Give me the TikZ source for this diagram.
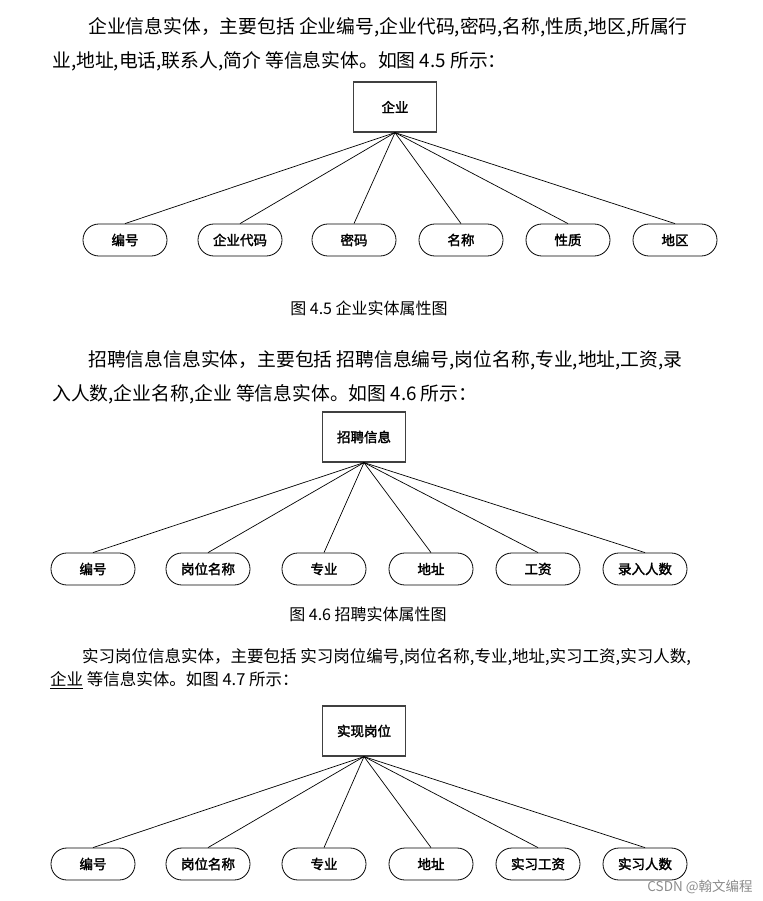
\documentclass[tikz,border=0pt]{standalone}
\usepackage{fontspec}
\newfontfamily\cjk{Noto Sans CJK SC}
\newfontfamily\cjkb{Noto Sans CJK SC}[FakeBold=2]
\usetikzlibrary{positioning}

\begin{document}
\begin{tikzpicture}[x=1pt, y=-1pt, font=\cjk,
  entity/.style={draw=black!75, line width=1.2pt, minimum width=83pt, minimum height=50pt, font=\cjkb\fontsize{13.5}{15}\selectfont},
  attr/.style={draw, line width=0.8pt, rounded corners=15.9pt, minimum width=84pt, minimum height=32pt, font=\cjkb\fontsize{13.5}{15}\selectfont},
  para/.style={anchor=west, inner sep=0pt, font=\cjk\fontsize{#1}{20}\selectfont},
  para/.default=18.8,
  figcap/.style={inner sep=0pt, font=\cjk\fontsize{16}{18}\selectfont},
  link/.style={line width=0.7pt}]
  \useasboundingbox (0,0) rectangle (762,901);
  % figure 4.5
  \node[para] (p1a) at (88,27) {企业信息实体，主要包括 企业编号,企业代码,密码,名称,性质,地区,所属行};
  \node[para] (p1b) at (52,61) {业,地址,电话,联系人,简介 等信息实体。如图 4.5 所示：};
  \node[entity] (qy) at (395,107) {企业};
  \node[attr] (qy1) at (125,240) {编号};
  \node[attr] (qy2) at (240,240) {企业代码};
  \node[attr] (qy3) at (354,240) {密码};
  \node[attr] (qy4) at (461,240) {名称};
  \node[attr] (qy5) at (568,240) {性质};
  \node[attr] (qy6) at (675,240) {地区};
  \draw[link] (qy.south) -- (qy1.north); \draw[link] (qy.south) -- (qy2.north);
  \draw[link] (qy.south) -- (qy3.north); \draw[link] (qy.south) -- (qy4.north);
  \draw[link] (qy.south) -- (qy5.north); \draw[link] (qy.south) -- (qy6.north);
  \node[figcap] (cap1) at (369,308) {图 4.5 企业实体属性图};
  % figure 4.6
  \node[para] (p2a) at (88,360) {招聘信息信息实体，主要包括 招聘信息编号,岗位名称,专业,地址,工资,录};
  \node[para] (p2b) at (52,394) {入人数,企业名称,企业 等信息实体。如图 4.6 所示：};
  \node[entity] (zp) at (364,437) {招聘信息};
  \node[attr] (zp1) at (93,569) {编号};
  \node[attr] (zp2) at (208,569) {岗位名称};
  \node[attr] (zp3) at (324,569) {专业};
  \node[attr] (zp4) at (431,569) {地址};
  \node[attr] (zp5) at (538,569) {工资};
  \node[attr] (zp6) at (645,569) {录入人数};
  \draw[link] (zp.south) -- (zp1.north); \draw[link] (zp.south) -- (zp2.north);
  \draw[link] (zp.south) -- (zp3.north); \draw[link] (zp.south) -- (zp4.north);
  \draw[link] (zp.south) -- (zp5.north); \draw[link] (zp.south) -- (zp6.north);
  \node[figcap] (cap2) at (368,614) {图 4.6 招聘实体属性图};
  % figure 4.7
  \node[para=16.5] (p3a) at (82,657) {实习岗位信息实体，主要包括 实习岗位编号,岗位名称,专业,地址,实习工资,实习人数,};
  \node[para=16.5] (p3b) at (50,680) {\underline{企业} 等信息实体。如图 4.7 所示：};
  \node[entity] (sx) at (364,731) {实现岗位};
  \node[attr] (sx1) at (93,864) {编号};
  \node[attr] (sx2) at (208,864) {岗位名称};
  \node[attr] (sx3) at (324,864) {专业};
  \node[attr] (sx4) at (431,864) {地址};
  \node[attr] (sx5) at (538,864) {实习工资};
  \node[attr] (sx6) at (645,864) {实习人数};
  \draw[link] (sx.south) -- (sx1.north); \draw[link] (sx.south) -- (sx2.north);
  \draw[link] (sx.south) -- (sx3.north); \draw[link] (sx.south) -- (sx4.north);
  \draw[link] (sx.south) -- (sx5.north); \draw[link] (sx.south) -- (sx6.north);
  \node[text=black!45, font=\cjk\fontsize{13.5}{15}\selectfont] (wm) at (700,887) {CSDN @翰文编程};
\end{tikzpicture}
\end{document}
